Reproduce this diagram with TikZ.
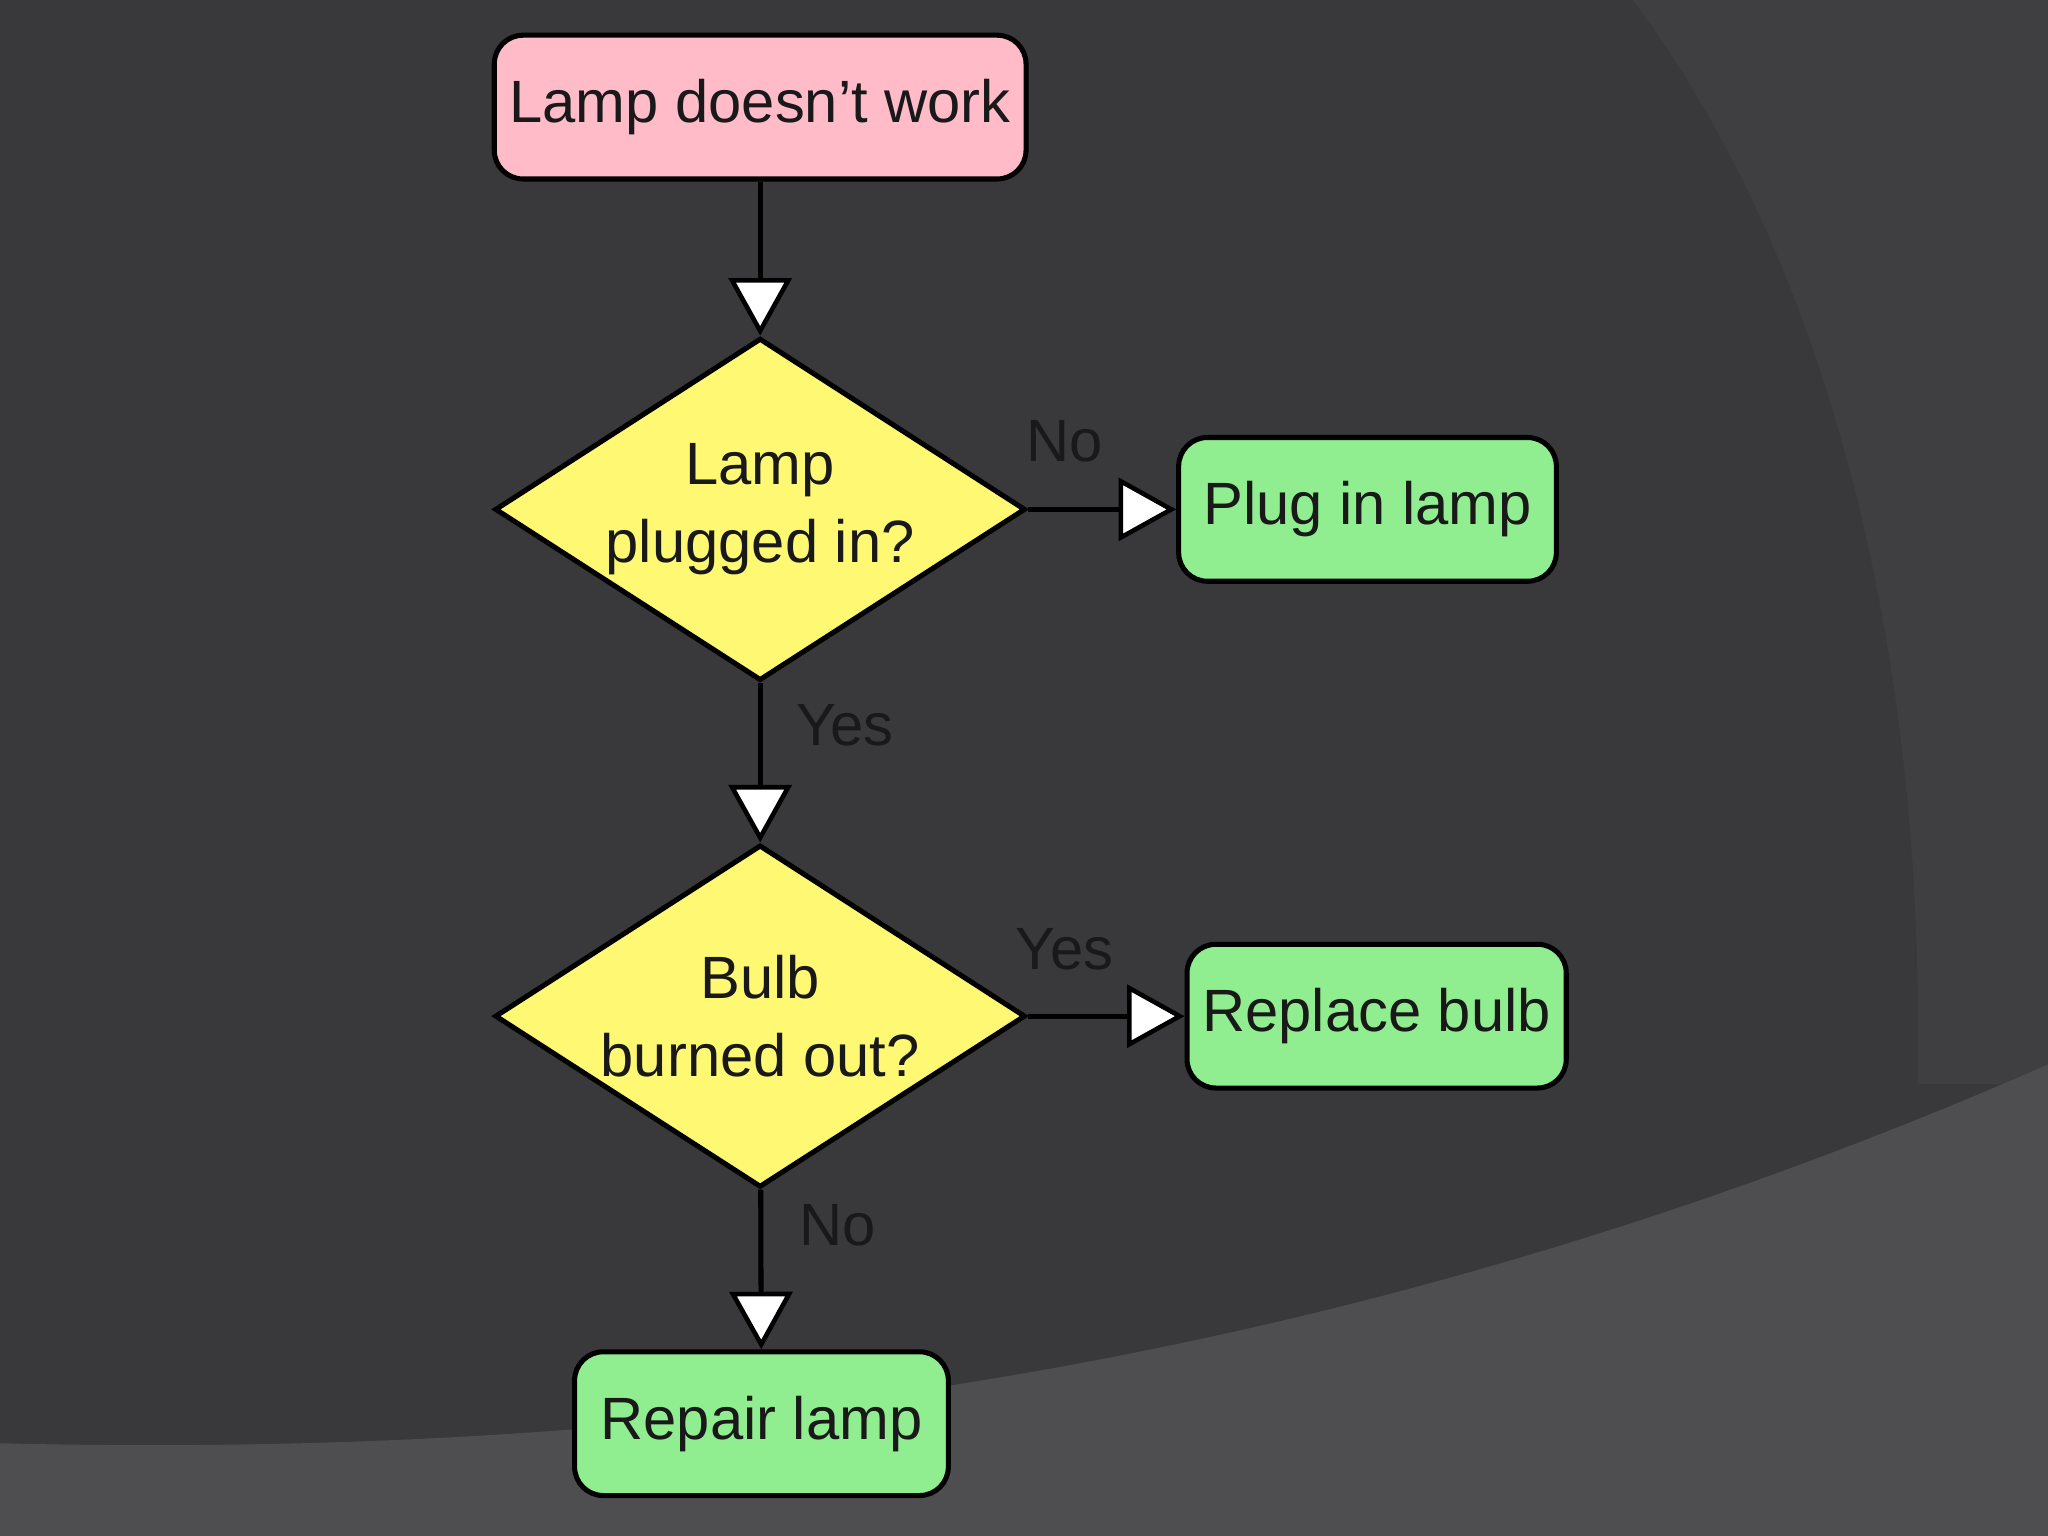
\documentclass[tikz,border=0pt]{standalone}
\usepackage{fontspec}
\setmainfont{Liberation Sans}
\usetikzlibrary{shapes.geometric,arrows.meta}
\begin{document}
\begin{tikzpicture}[x=0.01cm,y=-0.01cm,
  box/.style={draw=black,line width=1.1pt,rounded corners=0.22cm,minimum height=1.1cm,font=\fontsize{13}{15}\selectfont,text=black!90},
  dia/.style={diamond,draw=black,line width=1.1pt,fill=yellow!55!white,aspect=1.55,minimum width=4.06cm,minimum height=2.62cm,inner sep=0pt,align=center,font=\fontsize{13}{17}\selectfont,text=black!90},
  arr/.style={line width=1.1pt,-{Triangle[length=0.44cm,width=0.48cm,fill=white,line width=1pt]}},
  lbl/.style={font=\fontsize{13}{15}\selectfont,text=black!90}]
\fill[fill={rgb,255:red,57;green,57;blue,59}] (0,0) rectangle (1568,1176);
\fill[fill={rgb,255:red,63;green,63;blue,65}] (1250,0) .. controls (1400,200) and (1475,500) .. (1468,830) -- (1568,830) -- (1568,0) -- cycle;
\fill[fill={rgb,255:red,78;green,78;blue,80}] (0,1105) .. controls (600,1120) and (1100,1020) .. (1568,815) -- (1568,1176) -- (0,1176) -- cycle;
\useasboundingbox (0,0) rectangle (1568,1176);
\node[box,fill={rgb,255:red,255;green,188;blue,200},minimum width=3.85cm] (start) at (582,82) {Lamp doesn't work};
\node[dia] (d1) at (582,390) {Lamp\\plugged in?};
\node[dia] (d2) at (582,778) {Bulb\\burned out?};
\node[box,fill={rgb,255:red,144;green,238;blue,144},minimum width=2.89cm] (plug) at (1047,390) {Plug in lamp};
\node[box,fill={rgb,255:red,144;green,238;blue,144},minimum width=2.88cm] (bulb) at (1054,778) {Replace bulb};
\node[box,fill={rgb,255:red,144;green,238;blue,144},minimum width=2.86cm] (repair) at (583,1090) {Repair lamp};
\draw[arr] (start) -- (d1);
\draw[arr] (d1) -- (plug);
\draw[arr] (d1) -- (d2);
\draw[arr] (d2) -- (bulb);
\draw[arr] (d2) -- (repair);
\node[lbl] (l1) at (815,338) {No};
\node[lbl] (l2) at (647,555) {Yes};
\node[lbl] (l3) at (815,727) {Yes};
\node[lbl] (l4) at (641,938) {No};
\end{tikzpicture}
\end{document}
